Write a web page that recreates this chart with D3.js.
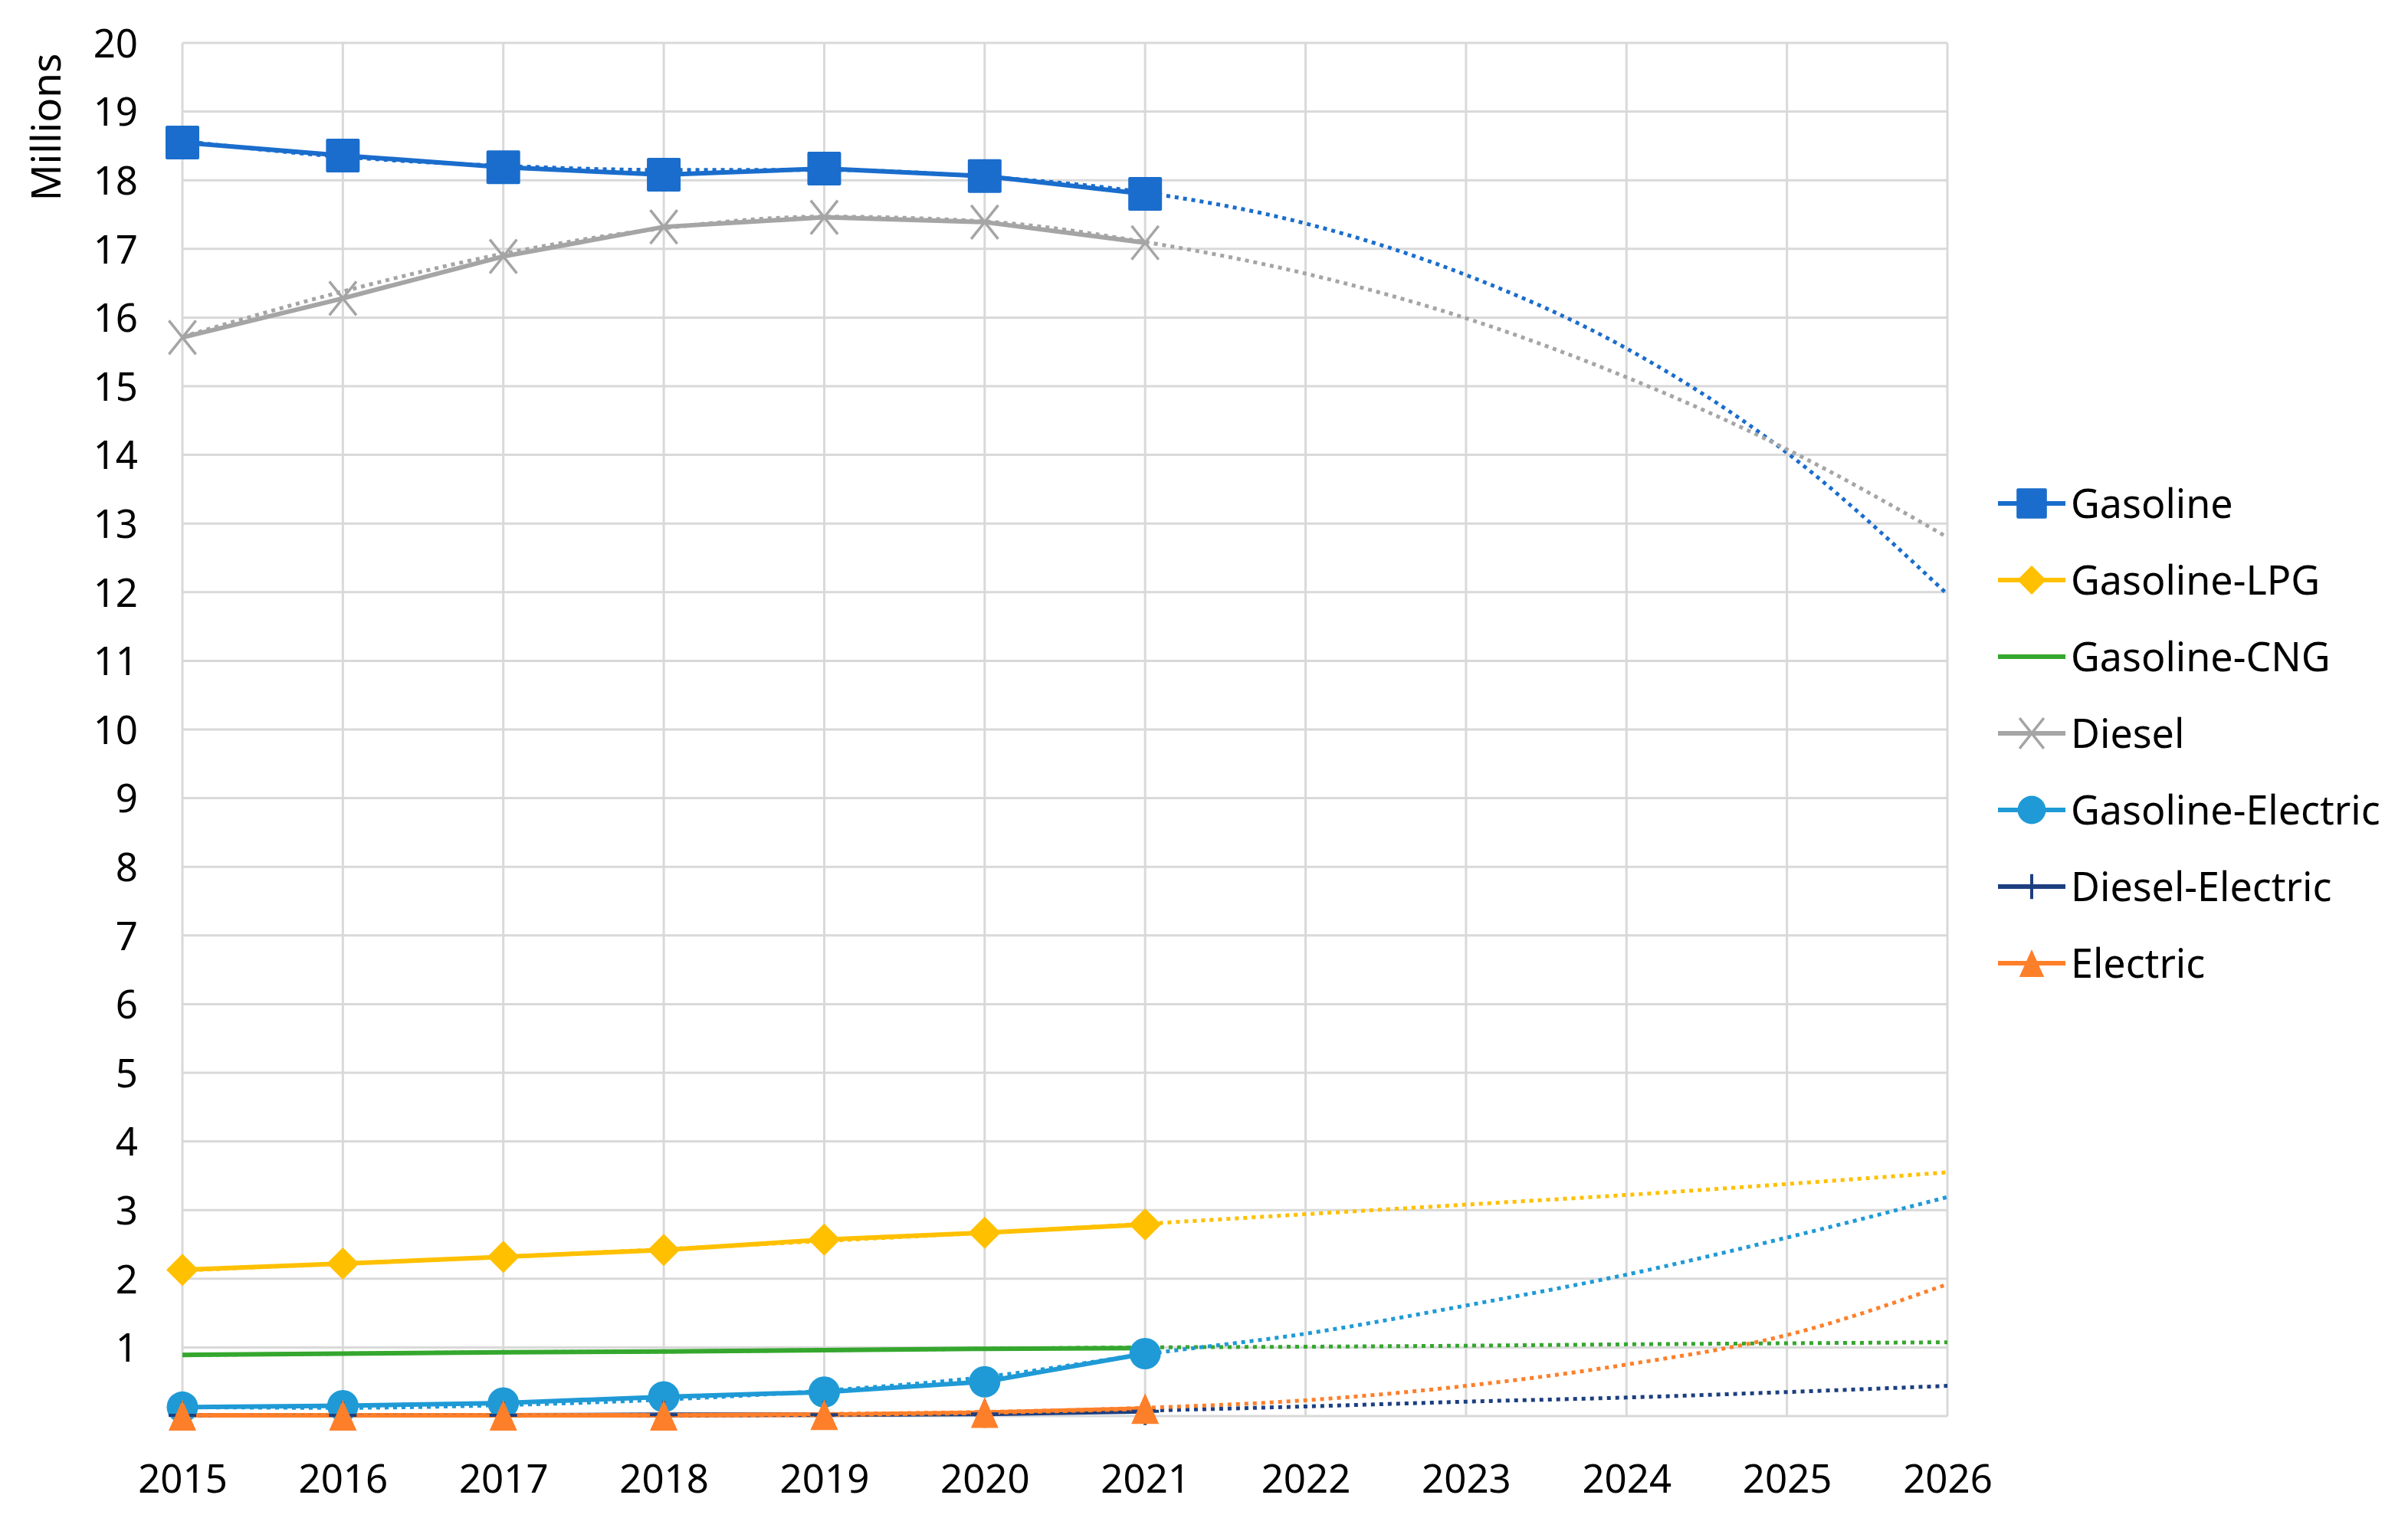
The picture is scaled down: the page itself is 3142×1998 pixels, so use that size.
<!DOCTYPE html>
<html>
<head>
<meta charset="utf-8">
<script src="https://cdn.jsdelivr.net/npm/d3@7"></script>
<style>
  body { margin: 0; background: #fff; }
  text { font-family: "Noto Sans", "Open Sans", sans-serif; fill: #000; }
</style>
</head>
<body>
<div id="chart"></div>
<script>
// Vehicle fleet by fuel type, with polynomial trend lines to 2026

// observed years and trend years
var years = [2015, 2016, 2017, 2018, 2019, 2020, 2021];
var trendYears = [2015, 2016, 2017, 2018, 2019, 2020, 2021, 2022, 2023, 2024, 2025, 2026];
var yTicks = [1, 2, 3, 4, 5, 6, 7, 8, 9, 10, 11, 12, 13, 14, 15, 16, 17, 18, 19, 20];

// series values (millions)
var gasoline = [18.55, 18.36, 18.19, 18.08, 18.17, 18.06, 17.80];
var lpg = [2.13, 2.22, 2.32, 2.42, 2.57, 2.67, 2.79];
var cng = [0.89, 0.91, 0.93, 0.94, 0.96, 0.98, 0.99];
var diesel = [15.71, 16.28, 16.89, 17.32, 17.46, 17.39, 17.09];
var gasElec = [0.13, 0.15, 0.19, 0.28, 0.35, 0.50, 0.91];
var dieselElec = [0.01, 0.01, 0.01, 0.02, 0.02, 0.03, 0.07];
var electric = [0.01, 0.01, 0.01, 0.01, 0.02, 0.05, 0.11];

// trend values
var gasolineTrend = [18.57, 18.34, 18.21, 18.15, 18.15, 18.05, 17.82, 17.37, 16.62, 15.55, 14.03, 11.97];
var lpgTrend = [2.12, 2.22, 2.32, 2.43, 2.55, 2.67, 2.80, 2.94, 3.08, 3.22, 3.38, 3.55];
var cngTrend = [0.89, 0.91, 0.93, 0.94, 0.96, 0.98, 1.00, 1.01, 1.025, 1.045, 1.06, 1.075];
var dieselTrend = [15.72, 16.38, 16.93, 17.30, 17.47, 17.40, 17.10, 16.64, 15.99, 15.13, 14.08, 12.80];
var gasElecTrend = [0.13, 0.12, 0.16, 0.24, 0.37, 0.57, 0.90, 1.20, 1.61, 2.06, 2.60, 3.19];
var dieselElecTrend = [0.01, 0.00, 0.00, 0.01, 0.02, 0.04, 0.08, 0.14, 0.21, 0.27, 0.35, 0.44];
var electricTrend = [0.01, 0.00, 0.00, 0.01, 0.03, 0.06, 0.12, 0.23, 0.44, 0.75, 1.18, 1.92];

var seriesNames = ["Gasoline", "Gasoline-LPG", "Gasoline-CNG", "Diesel", "Gasoline-Electric", "Diesel-Electric", "Electric"];
var seriesValues = [gasoline, lpg, cng, diesel, gasElec, dieselElec, electric];
var trendValues = [gasolineTrend, lpgTrend, cngTrend, dieselTrend, gasElecTrend, dieselElecTrend, electricTrend];
var colors = ["#1a6dcc", "#ffc000", "#35a72e", "#a5a5a5", "#1f9ad6", "#1c3f80", "#fe7f2a"];
var markers = ["square", "diamond", "none", "cross", "circle", "plus", "triangle"];

// layout
var svgWidth = 3142, svgHeight = 1998;
var margin = {top: 56, left: 238, right: 601, bottom: 150};
var width = svgWidth - margin.left - margin.right;
var height = 1848 - margin.top;

var svg = d3.select("#chart").append("svg")
    .attr("width", svgWidth)
    .attr("height", svgHeight);

var chartGroup = svg.append("g")
    .attr("transform", "translate(" + margin.left + "," + margin.top + ")");

var xScale = d3.scaleLinear().domain([2015, 2026]).range([0, width]);
var yScale = d3.scaleLinear().domain([0, 20]).range([height, 0]);

// gridlines
chartGroup.append("g")
    .attr("class", "grid")
    .selectAll("line.h")
    .data(d3.range(0, 21))
    .enter().append("line")
    .attr("x1", 0).attr("x2", width)
    .attr("y1", d => yScale(d)).attr("y2", d => yScale(d))
    .attr("stroke", "#d9d9d9").attr("stroke-width", 3);

chartGroup.append("g")
    .attr("class", "grid")
    .selectAll("line.v")
    .data(trendYears)
    .enter().append("line")
    .attr("x1", d => xScale(d)).attr("x2", d => xScale(d))
    .attr("y1", 0).attr("y2", height)
    .attr("stroke", "#d9d9d9").attr("stroke-width", 3);

// axes (labels only, Excel style)
var leftAxis = d3.axisLeft(yScale).tickValues(yTicks).tickSize(0).tickPadding(58);
var bottomAxis = d3.axisBottom(xScale).tickValues(trendYears).tickFormat(d3.format("d")).tickSize(0).tickPadding(82);

chartGroup.append("g").attr("class", "y").call(leftAxis);
chartGroup.append("g").attr("class", "x").attr("transform", "translate(0," + height + ")").call(bottomAxis);
chartGroup.selectAll(".domain").remove();
chartGroup.selectAll(".tick text")
    .attr("font-size", "51px")
    .attr("font-family", "'Noto Sans', sans-serif")
    .attr("fill", "#000");
chartGroup.select(".y").selectAll(".tick text").attr("dy", "0.36em");
chartGroup.select(".x").selectAll(".tick text").attr("dy", "0.36em");

// y axis title
svg.append("text")
    .attr("transform", "translate(79,166) rotate(-90)")
    .attr("text-anchor", "middle")
    .attr("font-size", "53px")
    .text("Millions");

// clip
svg.append("clipPath").attr("id", "plotClip")
    .append("rect").attr("x", 0).attr("y", -2).attr("width", width).attr("height", height + 4);

var plot = chartGroup.append("g").attr("clip-path", "url(#plotClip)");

var line = d3.line()
    .x((d, i) => xScale(years[i]))
    .y(d => yScale(d));

var trendLine = d3.line()
    .x((d, i) => xScale(trendYears[i]))
    .y(d => yScale(d))
    .curve(d3.curveMonotoneX);

// marker drawing
function drawMarker(g, type, color, size) {
    var s = size / 2;
    if (type === "square") {
        g.append("rect").attr("x", -s).attr("y", -s).attr("width", size).attr("height", size)
            .attr("rx", 2).attr("fill", color);
    } else if (type === "diamond") {
        g.append("path").attr("d", "M0," + (-s) + "L" + s + ",0L0," + s + "L" + (-s) + ",0Z").attr("fill", color);
    } else if (type === "circle") {
        g.append("circle").attr("r", s).attr("fill", color);
    } else if (type === "triangle") {
        g.append("path").attr("d", "M0," + (-s) + "L" + (s * 0.9) + "," + s + "L" + (-s * 0.9) + "," + s + "Z").attr("fill", color);
    } else if (type === "cross") {
        g.append("path").attr("d", "M" + (-s * 0.8) + "," + (-s) + "L" + (s * 0.8) + "," + s + "M" + (s * 0.8) + "," + (-s) + "L" + (-s * 0.8) + "," + s)
            .attr("stroke", color).attr("stroke-width", 3.5).attr("fill", "none");
    } else if (type === "plus") {
        g.append("path").attr("d", "M0," + (-s) + "L0," + s + "M" + (-s) + ",0L" + s + ",0")
            .attr("stroke", color).attr("stroke-width", 4).attr("fill", "none");
    }
}

var markerSize = {square: 44, diamond: 42, circle: 41, triangle: 40, cross: 44, plus: 36, none: 0};

// solid series lines
seriesValues.forEach(function(vals, k) {
    plot.append("path")
        .datum(vals)
        .attr("d", line)
        .attr("fill", "none")
        .attr("stroke", colors[k])
        .attr("stroke-width", 6)
        .attr("stroke-linejoin", "round");
});

// dotted trend lines
trendValues.forEach(function(vals, k) {
    plot.append("path")
        .datum(vals)
        .attr("d", trendLine)
        .attr("fill", "none")
        .attr("stroke", colors[k])
        .attr("stroke-width", 5)
        .attr("stroke-dasharray", "5 6");
});

// markers
seriesValues.forEach(function(vals, k) {
    if (markers[k] === "none") return;
    chartGroup.append("g")
        .selectAll("g")
        .data(vals)
        .enter().append("g")
        .attr("transform", (d, i) => "translate(" + xScale(years[i]) + "," + yScale(d) + ")")
        .each(function() { drawMarker(d3.select(this), markers[k], colors[k], markerSize[markers[k]]); });
});

// legend
var legend = svg.append("g").attr("class", "legend");
seriesNames.forEach(function(name, k) {
    var y = 657 + k * 100;
    var row = legend.append("g").attr("transform", "translate(2651," + y + ")");
    row.append("line").attr("x1", -44).attr("x2", 44).attr("y1", 0).attr("y2", 0)
        .attr("stroke", colors[k]).attr("stroke-width", 6);
    drawMarker(row, markers[k], colors[k], markerSize[markers[k]] * 0.9);
    row.append("text")
        .attr("x", 51)
        .attr("y", 0)
        .attr("dy", "0.36em")
        .attr("font-size", "52px")
        .text(name);
});
</script>
</body>
</html>
